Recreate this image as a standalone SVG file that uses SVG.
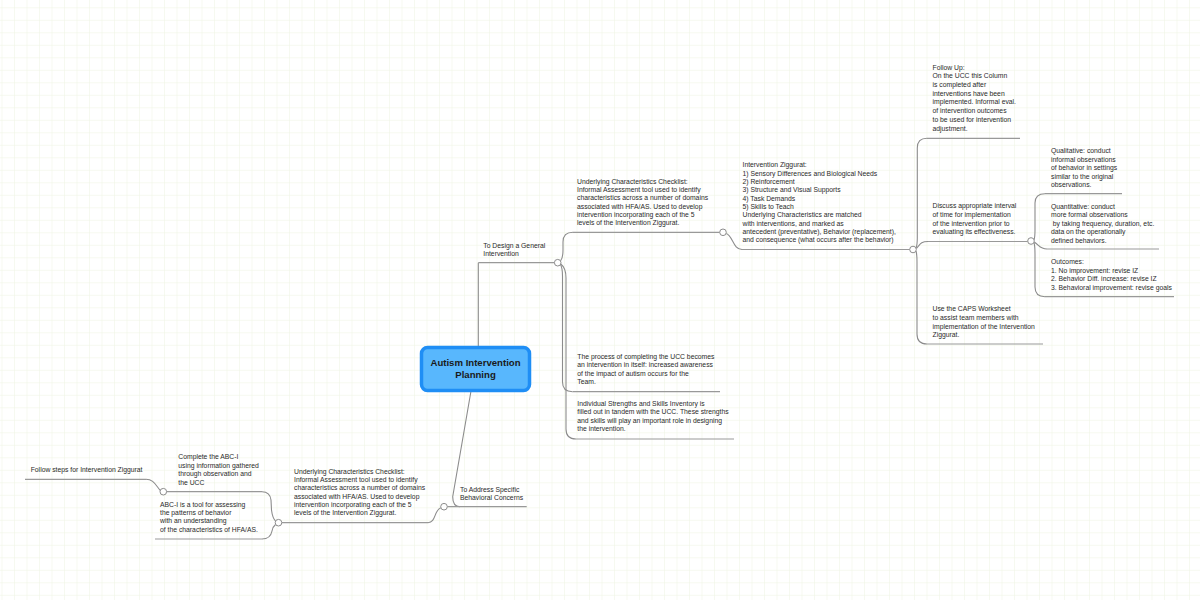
<svg xmlns="http://www.w3.org/2000/svg" width="1200" height="600" viewBox="0 0 1200 600">
<defs>
<pattern id="grid" x="1.5" y="7.3" width="12.5" height="12.5" patternUnits="userSpaceOnUse">
<path d="M0 0 H12.5 M0 0 V12.5" fill="none" stroke="#eef3e2" stroke-width="1"/>
</pattern>
<style>
.t{font-family:"Liberation Sans",Arial,sans-serif;font-size:6.8px;fill:#2a2a2a}
.c{fill:none;stroke:#8c8c8c;stroke-width:1.1}
.u{fill:none;stroke:#999;stroke-width:1.2}
.k{fill:#fff;stroke:#8c8c8c;stroke-width:1}
.title{font-family:"Liberation Sans",Arial,sans-serif;font-size:9.6px;font-weight:bold;fill:#1a1a1a}
</style>
</defs>
<rect width="1200" height="600" fill="#fff"/>
<rect width="1200" height="600" fill="url(#grid)"/>

<g id="connectors">
<path class="c" d="M478.3 346 V262.7"/>
<path class="c" d="M471 391 L452.7 496.7 Q452.7 506.7 460 506.7"/>
<path class="c" d="M560.5 261 Q563 258 563 250 L563 242 Q563 232.3 573 232.3"/>
<path class="c" d="M560.5 264.5 Q562.5 268 562.5 276 L562.5 382 Q562.5 391.7 572.5 391.7"/>
<path class="c" d="M560.8 264 Q566 268 566 278 L566 429 Q566 439 576 439"/>
<path class="c" d="M726.3 233.5 C733 236 733 249.5 742 249.5"/>
<path class="c" d="M916 248 Q917.3 245 917.3 238 V148 Q917.3 138.3 927 138.3"/>
<path class="c" d="M916.3 248.5 C920 245 920 241.5 928 241.5"/>
<path class="c" d="M916 251 Q917 254 917 262 V334 Q917 344 927 344"/>
<path class="c" d="M1034 240 Q1035 237 1035 230 V203 Q1035 193.7 1045 193.7"/>
<path class="c" d="M1034.3 242 C1040 246 1040 249 1047 249"/>
<path class="c" d="M1034 242.5 Q1035 246 1035 254 V287 Q1035 296.7 1045 296.7"/>
<path class="c" d="M440.9 507.8 C434 510 436 522.7 428 522.7"/>
<path class="c" d="M275.5 521 Q272.5 518 271.5 510 L271 500 Q270 491.7 262 491.7"/>
<path class="c" d="M275.5 524.5 Q272.5 527 272 531 Q270.5 539 262 539"/>
<path class="c" d="M160.2 490.3 C155 484 153 479.3 146 479.3"/>
</g>

<g id="center">
<rect x="421.5" y="347.5" width="108" height="43" rx="6" fill="#58b7fd" stroke="#1f8ef5" stroke-width="3.5"/>
<text class="title" x="475.5" y="366.3" text-anchor="middle">Autism Intervention</text>
<text class="title" x="475.5" y="378.3" text-anchor="middle">Planning</text>
</g>

<g id="design">
<path class="u" d="M478.3 262.7 H554.4"/>
<text class="t" x="483.3" y="248">To Design a General</text>
<text class="t" x="483.3" y="256">Intervention</text>
<circle class="k" cx="557.7" cy="262.7" r="3.3"/>
</g>

<g id="ucc-right">
<path class="u" d="M573 232.3 H719.7"/>
<text class="t" x="577" y="184"><tspan x="577">Underlying Characteristics Checklist:</tspan><tspan x="577" dy="8.2">Informal Assessment tool used to identify</tspan><tspan x="577" dy="8.2">characteristics across a number of domains</tspan><tspan x="577" dy="8.2">associated with HFA/AS. Used to develop</tspan><tspan x="577" dy="8.2">intervention incorporating each of the 5</tspan><tspan x="577" dy="8.2">levels of the Intervention Ziggurat.</tspan></text>
<circle class="k" cx="723" cy="232.3" r="3.3"/>
</g>

<g id="ziggurat">
<path class="u" d="M742 249.5 H909.7"/>
<text class="t" x="742.5" y="167.3"><tspan x="742.5">Intervention Ziggurat:</tspan><tspan x="742.5" dy="8.35">1) Sensory Differences and Biological Needs</tspan><tspan x="742.5" dy="8.35">2) Reinforcement</tspan><tspan x="742.5" dy="8.35">3) Structure and Visual Supports</tspan><tspan x="742.5" dy="8.35">4) Task Demands</tspan><tspan x="742.5" dy="8.35">5) Skills to Teach</tspan><tspan x="742.5" dy="8.35">Underlying Characteristics are matched</tspan><tspan x="742.5" dy="8.35">with interventions, and marked as</tspan><tspan x="742.5" dy="8.35">antecedent (preventative), Behavior (replacement),</tspan><tspan x="742.5" dy="8.35">and consequence (what occurs after the behavior)</tspan></text>
<circle class="k" cx="913" cy="249.5" r="3.3"/>
</g>

<g id="followup">
<path class="u" d="M927 138.3 H1020"/>
<text class="t" x="932.5" y="69.6"><tspan x="932.5">Follow Up:</tspan><tspan x="932.5" dy="8.7">On the UCC this Column</tspan><tspan x="932.5" dy="8.7">is completed after</tspan><tspan x="932.5" dy="8.7">interventions have been</tspan><tspan x="932.5" dy="8.7">implemented. Informal eval.</tspan><tspan x="932.5" dy="8.7">of intervention outcomes</tspan><tspan x="932.5" dy="8.7">to be used for intervention</tspan><tspan x="932.5" dy="8.7">adjustment.</tspan></text>
</g>

<g id="discuss">
<path class="u" d="M928 241.5 H1027.7"/>
<text class="t" x="932.5" y="208.3"><tspan x="932.5">Discuss appropriate interval</tspan><tspan x="932.5" dy="8.6">of time for implementation</tspan><tspan x="932.5" dy="8.6">of the intervention prior to</tspan><tspan x="932.5" dy="8.6">evaluating its effectiveness.</tspan></text>
<circle class="k" cx="1031" cy="241" r="3.3"/>
</g>

<g id="caps">
<path class="u" d="M927 344 H1043"/>
<text class="t" x="932.5" y="311.3"><tspan x="932.5">Use the CAPS Worksheet</tspan><tspan x="932.5" dy="8.6">to assist team members with</tspan><tspan x="932.5" dy="8.6">implementation of the Intervention</tspan><tspan x="932.5" dy="8.6">Ziggurat.</tspan></text>
</g>

<g id="qualitative">
<path class="u" d="M1045 193.7 H1122"/>
<text class="t" x="1051" y="153"><tspan x="1051">Qualitative: conduct</tspan><tspan x="1051" dy="8.6">informal observations</tspan><tspan x="1051" dy="8.6">of behavior in settings</tspan><tspan x="1051" dy="8.6">similar to the original</tspan><tspan x="1051" dy="8.6">observations.</tspan></text>
</g>

<g id="quantitative">
<path class="u" d="M1047 249 H1159"/>
<text class="t" x="1051" y="209"><tspan x="1051">Quantitative: conduct</tspan><tspan x="1051" dy="8.4">more formal observations</tspan><tspan x="1052.8" dy="8.4">by taking frequency, duration, etc.</tspan><tspan x="1051" dy="8.4">data on the operationally</tspan><tspan x="1051" dy="8.4">defined behaviors.</tspan></text>
</g>

<g id="outcomes">
<path class="u" d="M1045 296.7 H1174"/>
<text class="t" x="1051" y="264"><tspan x="1051">Outcomes:</tspan><tspan x="1051" dy="8.6">1. No improvement: revise IZ</tspan><tspan x="1051" dy="8.6">2. Behavior Diff. increase: revise IZ</tspan><tspan x="1051" dy="8.6">3. Behavioral improvement: revise goals</tspan></text>
</g>

<g id="process">
<path class="u" d="M572.5 391.7 H720"/>
<text class="t" x="577.3" y="359"><tspan x="577.3">The process of completing the UCC becomes</tspan><tspan x="577.3" dy="8.4">an intervention in itself: increased awareness</tspan><tspan x="577.3" dy="8.4">of the impact of autism occurs for the</tspan><tspan x="577.3" dy="8.4">Team.</tspan></text>
</g>

<g id="strengths">
<path class="u" d="M576 439 H734"/>
<text class="t" x="577.3" y="405.6"><tspan x="577.3">Individual Strengths and Skills Inventory is</tspan><tspan x="577.3" dy="8.6">filled out in tandem with the UCC. These strengths</tspan><tspan x="577.3" dy="8.6">and skills will play an important role in designing</tspan><tspan x="577.3" dy="8.6">the intervention.</tspan></text>
</g>

<g id="address">
<path class="u" d="M447.3 506.7 H526.7"/>
<text class="t" x="460" y="491.6">To Address Specific</text>
<text class="t" x="460" y="500">Behavioral Concerns</text>
<circle class="k" cx="444" cy="506.7" r="3.3"/>
</g>

<g id="ucc-left">
<path class="u" d="M281.8 522.7 H428"/>
<text class="t" x="294" y="474"><tspan x="294">Underlying Characteristics Checklist:</tspan><tspan x="294" dy="8.2">Informal Assessment tool used to identify</tspan><tspan x="294" dy="8.2">characteristics across a number of domains</tspan><tspan x="294" dy="8.2">associated with HFA/AS. Used to develop</tspan><tspan x="294" dy="8.2">intervention incorporating each of the 5</tspan><tspan x="294" dy="8.2">levels of the Intervention Ziggurat.</tspan></text>
<circle class="k" cx="278.5" cy="522.7" r="3.3"/>
</g>

<g id="complete-abc">
<path class="u" d="M166.6 491.7 H262"/>
<text class="t" x="178.3" y="459"><tspan x="178.3">Complete the ABC-I</tspan><tspan x="178.3" dy="8.5">using information gathered</tspan><tspan x="178.3" dy="8.5">through observation and</tspan><tspan x="178.3" dy="8.5">the UCC</tspan></text>
<circle class="k" cx="163.3" cy="491.7" r="3.3"/>
</g>

<g id="abc-tool">
<path class="u" d="M155 539 H262"/>
<text class="t" x="160" y="506.5"><tspan x="160">ABC-I is a tool for assessing</tspan><tspan x="160" dy="8.35">the patterns of behavior</tspan><tspan x="160" dy="8.35">with an understanding</tspan><tspan x="160" dy="8.35">of the characteristics of HFA/AS.</tspan></text>
</g>

<g id="follow-steps">
<path class="u" d="M25 479.3 H146"/>
<text class="t" x="30.7" y="472.3">Follow steps for Intervention Ziggurat</text>
</g>
</svg>
